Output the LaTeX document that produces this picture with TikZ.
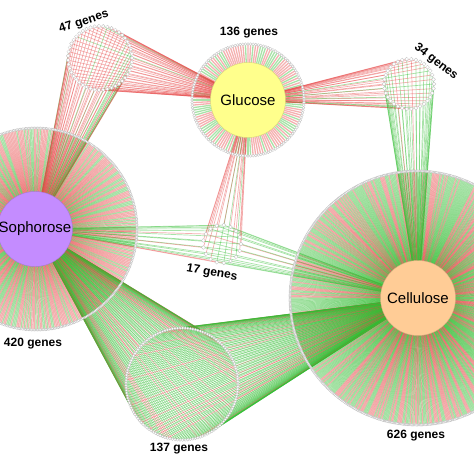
\documentclass[tikz,border=0pt]{standalone}
\usepackage{fontspec}
\setmainfont{Liberation Sans}
\usepackage{xcolor}
\definecolor{GlcYellow}{RGB}{255,255,140}
\definecolor{SopPurple}{RGB}{196,140,255}
\definecolor{CelPeach}{RGB}{255,204,150}
\definecolor{UpRed}{RGB}{232,70,70}
\definecolor{DownGreen}{RGB}{50,190,50}
\colorlet{DotGray}{gray!50}
\newcommand{\HubSize}{75pt}

\tikzset{
  upedge/.style={UpRed, opacity=0.42},
  downedge/.style={DownGreen, opacity=0.42},
  genedot/.style={fill=white, draw=DotGray, line width=0.3pt},
  hub/.style={circle, minimum size=\HubSize, inner sep=0pt, line width=0.4pt,
    font=\fontsize{15}{15}\selectfont},
  genecount/.style={font=\bfseries\fontsize{12}{12}\selectfont}
}

% [#1] line width, #2,#3 centre, #4 radius, #5 genes, #6 hub/red-share pairs
\newcommand{\GeneEdges}[6][0.7pt]{
  \foreach \g in {1,...,#5}{
    \pgfmathsetmacro{\ang}{360/#5*\g}
    \pgfmathsetmacro{\gx}{#2 + #4*cos(\ang)}
    \pgfmathsetmacro{\gy}{#3 + #4*sin(\ang)}
    \coordinate (gene) at (\gx,\gy);
    \foreach \hub/\share in {#6}{
      \pgfmathsetmacro{\roll}{rnd}
      \ifdim\roll pt<\share pt
        \draw[upedge, line width=#1] (gene) -- (\hub);
      \else
        \draw[downedge, line width=#1] (gene) -- (\hub);
      \fi
    }
  }
}
% #1,#2 centre, #3 radius, #4 genes, #5 dot radius
\newcommand{\GeneDots}[5]{
  \foreach \g in {1,...,#4}{
    \pgfmathsetmacro{\ang}{360/#4*\g}
    \pgfmathsetmacro{\gx}{#1 + #3*cos(\ang)}
    \pgfmathsetmacro{\gy}{#2 + #3*sin(\ang)}
    \draw[genedot] (\gx,\gy) circle (#5);
  }
}

\begin{document}
\begin{tikzpicture}[x=1pt, y=-1pt]
  \pgfmathsetseed{2024}
  \useasboundingbox (0,0) rectangle (474,474);
  \fill[white] (0,0) rectangle (474,474);

  \coordinate (glc) at (248,100);
  \coordinate (sop) at (35,229);
  \coordinate (cel) at (418,298);

  % hub-only genes (spokes)
  \GeneEdges[1.3pt]{248}{100}{56}{136}{glc/0.6}
  \GeneEdges[1.2pt]{36}{229}{101}{420}{sop/0.58}
  \GeneEdges[1.2pt]{417}{298}{127}{626}{cel/0.42}
  % shared genes
  \GeneEdges{100}{58}{32}{47}{glc/0.88, sop/0.82}
  \GeneEdges{409}{84}{25}{34}{glc/0.85, cel/0.08}
  \GeneEdges{222}{244}{19}{17}{glc/0.9, sop/0.6, cel/0.15}
  \GeneEdges{182}{384}{56}{137}{sop/0.3, cel/0.15}

  \GeneDots{248}{100}{56}{136}{1.4}
  \GeneDots{36}{229}{101}{420}{1.2}
  \GeneDots{417}{298}{127}{626}{1.2}
  \GeneDots{100}{58}{32}{47}{1.8}
  \GeneDots{409}{84}{25}{34}{1.9}
  \GeneDots{222}{244}{19}{17}{1.9}
  \GeneDots{182}{384}{56}{137}{1.4}

  \node[hub, fill=GlcYellow, draw=GlcYellow!85!black] (glucose) at (glc) {Glucose};
  \node[hub, fill=SopPurple, draw=SopPurple!85!black] (sophorose) at (sop) {Sophorose};
  \node[hub, fill=CelPeach, draw=CelPeach!85!black] (cellulose) at (cel) {Cellulose};

  \node[genecount] (n136) at (249,33) {136 genes};
  \node[genecount, rotate=18] (n47) at (84,22) {47 genes};
  \node[genecount, rotate=-38] (n34) at (436,62) {34 genes};
  \node[genecount, rotate=-10] (n17) at (212,273) {17 genes};
  \node[genecount] (n420) at (33,344) {420 genes};
  \node[genecount] (n137) at (179,449) {137 genes};
  \node[genecount] (n626) at (416,436) {626 genes};
\end{tikzpicture}
\end{document}
